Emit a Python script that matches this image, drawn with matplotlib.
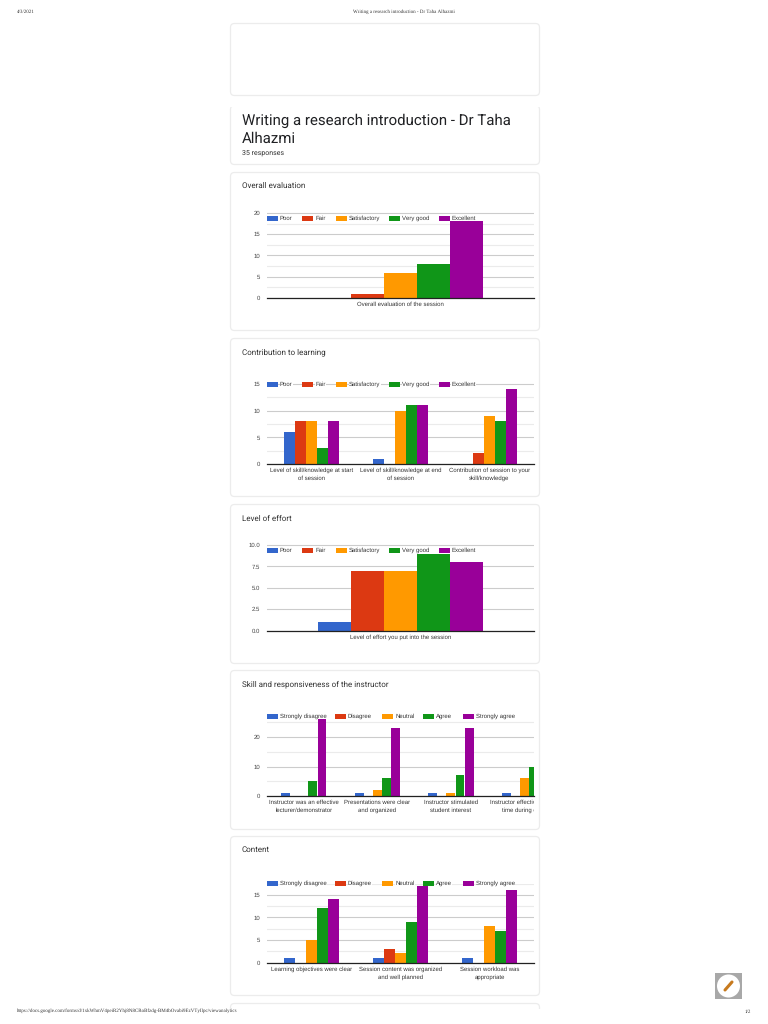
#!/usr/bin/env python3
"""Google Forms summary page (PDF print) with five grouped bar charts."""

import matplotlib
matplotlib.use('Agg')
import matplotlib.pyplot as plt
from matplotlib.patches import FancyBboxPatch, Rectangle, Circle
from matplotlib.transforms import Bbox, TransformedBbox

plt.rcParams['text.hinting'] = 'no_hinting'
plt.rcParams['text.hinting_factor'] = 1

W, H = 768, 1024
PLOT_L, PLOT_R = 267, 534

COLORS = ['#3366cc', '#dc3912', '#ff9900', '#109618', '#990099']

# ── Data ─────────────────────────────────────────────────────────────────────
RATING = ['Poor', 'Fair', 'Satisfactory', 'Very good', 'Excellent']
AGREE = ['Strongly disagree', 'Disagree', 'Neutral', 'Agree', 'Strongly agree']

overall_cats = ['Overall evaluation of the session']
overall_vals = [[0, 1, 6, 8, 18]]

contrib_cats = ['Level of skill/knowledge at start\nof session',
                'Level of skill/knowledge at end\nof session',
                'Contribution of session to your\nskill/knowledge']
contrib_vals = [[6, 8, 8, 3, 8],
                [1, 0, 10, 11, 11],
                [0, 2, 9, 8, 14]]

effort_cats = ['Level of effort you put into the session']
effort_vals = [[1, 7, 7, 9, 8]]

skill_cats = ['Instructor was an effective\nlecturer/demonstrator',
              'Presentations were clear\nand organized',
              'Instructor stimulated\nstudent interest',
              'Instructor effectively used\ntime during class']
skill_vals = [[1, 0, 0, 5, 26],
              [1, 0, 2, 6, 23],
              [1, 0, 1, 7, 23],
              [1, 0, 6, 10, 18]]

content_cats = ['Learning objectives were clear',
                'Session content was organized\nand well planned',
                'Session workload was\nappropriate']
content_vals = [[1, 0, 5, 12, 14],
                [1, 3, 2, 9, 17],
                [1, 0, 8, 7, 16]]

# ── Page ─────────────────────────────────────────────────────────────────────
fig = plt.figure(figsize=(W / 100, H / 100), dpi=100, facecolor='white')

page = fig.add_axes([0, 0, 1, 1], zorder=0)
page.set_xlim(0, W)
page.set_ylim(H, 0)
page.axis('off')

over = fig.add_axes([0, 0, 1, 1], zorder=5)
over.set_xlim(0, W)
over.set_ylim(H, 0)
over.axis('off')
over.patch.set_alpha(0)


def card(y0, y1):
    page.add_patch(FancyBboxPatch((230.5, y0 + 0.5), 309, y1 - y0 - 1,
                                  boxstyle='round,pad=0,rounding_size=4',
                                  fc='white', ec='#ececec', lw=0.9))


def t(x, y, s, sz=5, col='#222222', ha='left', fam='Liberation Sans', **kw):
    page.text(x, y, s, fontsize=sz, color=col, ha=ha, va='center', family=fam, **kw)


card(23, 96)
card(105, 165)
card(172, 331)
card(338, 497)
card(504, 664)
card(670, 830)
card(836, 996)
card(1003, 1040)
page.add_patch(Rectangle((225, 1009), 320, 15, fc='white', ec='none', zorder=3))
page.add_patch(Rectangle((225, 100), 320, 7, fc='white', ec='none', zorder=3))

t(17, 11.5, '4/3/2021', 3.7, '#333333', fam='Liberation Serif')
t(403.5, 11.5, 'Writing a research introduction - Dr Taha Alhazmi', 3.7, '#333333',
  ha='center', fam='Liberation Serif')
t(17, 1011, 'https://docs.google.com/forms/d/1xkWhmV4peiR2Yhj8N8CRoBfzdg-BM4bOvabi9EzVTyIlpc/viewanalytics',
  3.7, '#333333', fam='Liberation Serif', zorder=4)
t(751, 1011.5, '1/2', 3.7, '#333333', ha='right', fam='Liberation Serif')

t(241.5, 120.5, 'Writing a research introduction - Dr Taha', 11.0, '#202124', fam='Roboto')
t(241.5, 139, 'Alhazmi', 11.0, '#202124', fam='Roboto')
t(241.5, 153, '35 responses', 5.0, '#333333', fam='Roboto')

# edit button, bottom right
page.add_patch(Rectangle((715, 973), 27, 26, fc='#a8a8a8', ec='none'))
page.add_patch(Circle((728.5, 986), 11.5, fc='white', ec='none'))
page.plot([725, 732], [990, 982], color='#c77a1e', lw=2.2, solid_capstyle='round')


# ── Charts ───────────────────────────────────────────────────────────────────
def chart(title, title_y, legend_names, legend_y, swatch_x, cats, vals,
          base_px, px_per_unit, major, minor, n_slots=None, tick_fmt='{:g}'):
    t(241.5, title_y, title, 5.7, '#333333', fam='Roboto')

    top_val = max(max(major), max(max(r) for r in vals)) + 0.4
    top_px = base_px - top_val * px_per_unit
    ax = fig.add_axes([PLOT_L / W, 1 - base_px / H,
                       (PLOT_R - PLOT_L) / W, (base_px - top_px) / H], zorder=1)
    ax.patch.set_alpha(0)

    slots = n_slots if n_slots else len(cats)
    ax.set_xlim(-0.5, slots - 0.5)
    ax.set_ylim(0, top_val)

    bar_w = 0.62 / 5
    for i, name in enumerate(legend_names):
        xs = [k + (i - 2) * bar_w for k in range(len(cats))]
        ax.bar(xs, [row[i] for row in vals], width=bar_w * 0.98, color=COLORS[i], zorder=3)

    ax.set_yticks(major)
    ax.set_yticklabels([tick_fmt.format(v) for v in major], fontsize=4.3,
                       color='#444444', family='Liberation Sans')
    ax.set_yticks(minor, minor=True)
    ax.grid(which='major', axis='y', color='#cccccc', lw=0.8, zorder=0)
    ax.grid(which='minor', axis='y', color='#ebebeb', lw=0.8, zorder=0)
    ax.set_xticks(range(len(cats)))
    ax.set_xticklabels(cats, fontsize=4.2, color='#333333', family='Liberation Sans',
                       linespacing=1.55)
    ax.tick_params(which='both', length=0)
    ax.tick_params(axis='y', pad=5)
    ax.tick_params(axis='x', pad=2.6)
    for s in ['top', 'left', 'right']:
        ax.spines[s].set_visible(False)
    ax.spines['bottom'].set_color('#222222')
    ax.spines['bottom'].set_linewidth(0.9)
    ax.spines['bottom'].set_zorder(4)

    # labels of a clipped category stop at the plot edge, as in the print
    clip = TransformedBbox(Bbox([[0, 0], [PLOT_R / W, 1]]), fig.transFigure)
    for lab in ax.get_xticklabels():
        lab.set_clip_box(clip)
        lab.set_clip_on(True)

    # legend sits on top of the plot
    for x, name, col in zip(swatch_x, legend_names, COLORS):
        over.add_patch(Rectangle((x, legend_y - 2.5), 11, 5, fc=col, ec='none'))
        over.text(x + 13, legend_y, name, fontsize=4.3, color='#333333', va='center',
                  family='Liberation Sans',
                  bbox=dict(fc='white', ec='none', pad=0.3))


RATING_X = [267, 302, 336, 389, 438.5]
AGREE_X = [267, 335, 382, 423, 463]

chart('Overall evaluation', 186, RATING, 218, RATING_X, overall_cats, overall_vals,
      298, 85 / 20, [0, 5, 10, 15, 20], [2.5, 7.5, 12.5, 17.5])
chart('Contribution to learning', 352, RATING, 384, RATING_X, contrib_cats, contrib_vals,
      464, 80 / 15, [0, 5, 10, 15], [2.5, 7.5, 12.5])
chart('Level of effort', 518.5, RATING, 550.5, RATING_X, effort_cats, effort_vals,
      630.5, 85.5 / 10, [0, 2.5, 5, 7.5, 10], [], tick_fmt='{:.1f}')
chart('Skill and responsiveness of the instructor', 684.5, AGREE, 716, AGREE_X,
      skill_cats, skill_vals, 796, 2.95, [0, 10, 20], [5, 15, 25], n_slots=3.63)
chart('Content', 850, AGREE, 883, AGREE_X, content_cats, content_vals,
      962.5, 68 / 15, [0, 5, 10, 15], [2.5, 7.5, 12.5, 17.5])

fig.savefig('out.png', dpi=100, facecolor='white')
